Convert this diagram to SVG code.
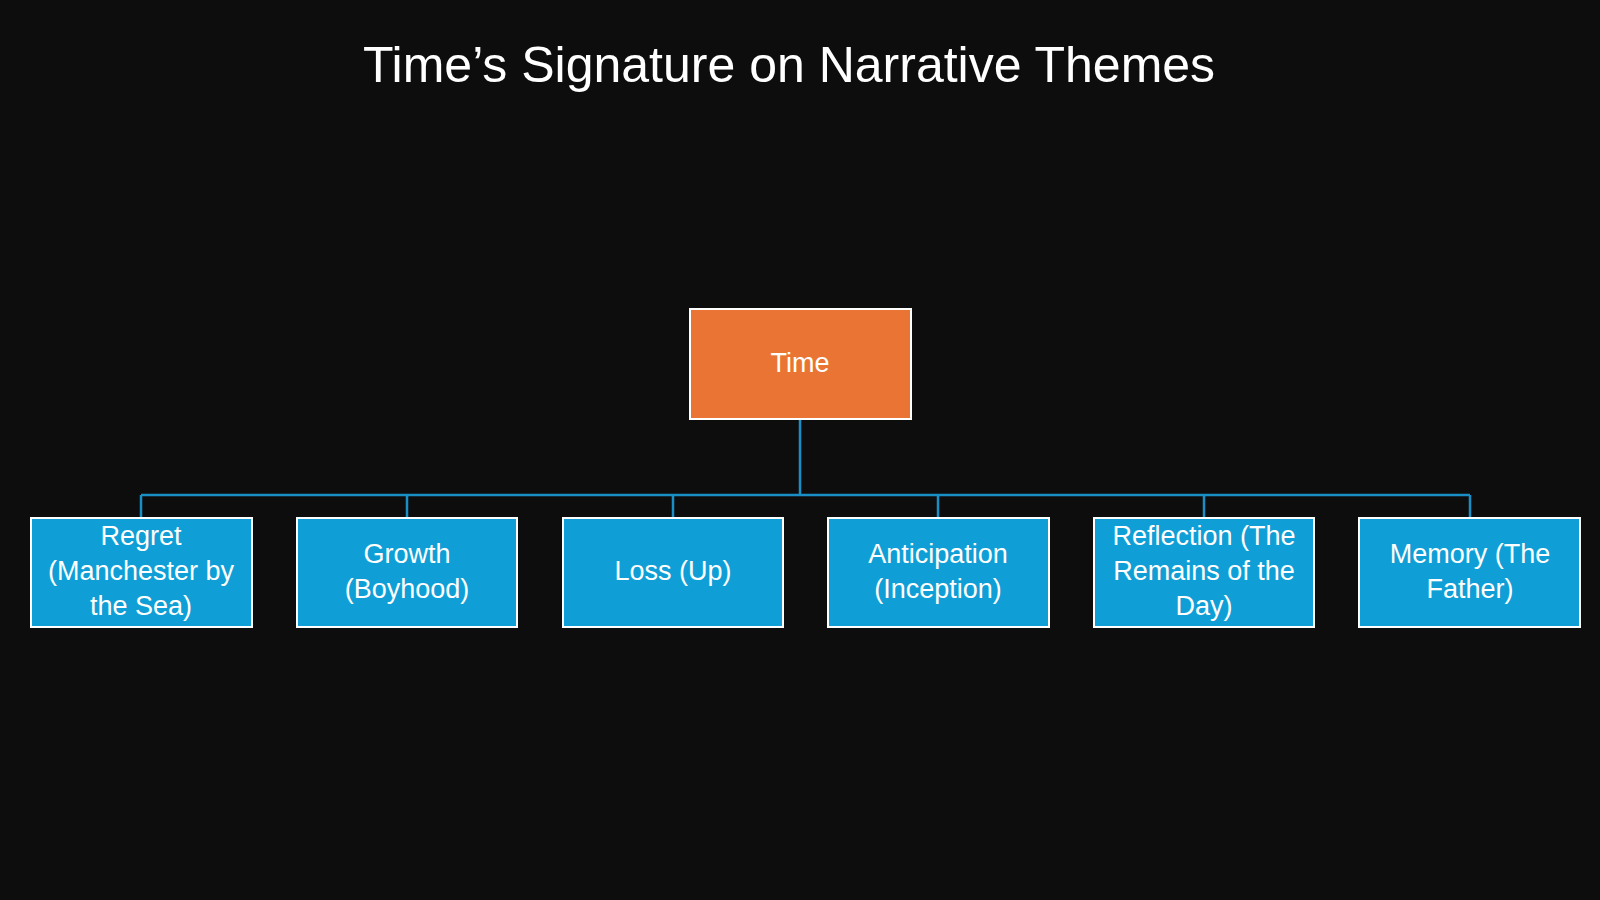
<svg xmlns="http://www.w3.org/2000/svg" width="1600" height="900" viewBox="0 0 1600 900">
<style>
.t{font-family:"Liberation Sans",Arial,sans-serif;fill:#fff;text-anchor:middle}
.n{font-size:27px}
.c{fill:#0f9fd6;stroke:#fff;stroke-width:2}
.l{stroke:#1a8fc6;stroke-width:2.5;fill:none}
</style>
<rect width="1600" height="900" fill="#0d0d0d"/>
<text class="t" x="789" y="82" font-size="50">Time’s Signature on Narrative Themes</text>
<g id="connectors">
<path class="l" d="M800 420V495M141 495H1470M141 495V518M407 495V518M673 495V518M938 495V518M1204 495V518M1470 495V518"/>
</g>
<g id="time"><rect x="690" y="309" width="221" height="110" fill="#ea7434" stroke="#fff" stroke-width="2"/><text class="t n" x="800" y="372">Time</text></g>
<g id="regret"><rect class="c" x="31" y="518" width="221" height="109"/><text class="t n" x="141" y="545">Regret<tspan x="141" dy="35">(Manchester by</tspan><tspan x="141" dy="35">the Sea)</tspan></text></g>
<g id="growth"><rect class="c" x="297" y="518" width="220" height="109"/><text class="t n" x="407" y="563">Growth<tspan x="407" dy="35">(Boyhood)</tspan></text></g>
<g id="loss"><rect class="c" x="563" y="518" width="220" height="109"/><text class="t n" x="673" y="580">Loss (Up)</text></g>
<g id="anticipation"><rect class="c" x="828" y="518" width="221" height="109"/><text class="t n" x="938" y="563">Anticipation<tspan x="938" dy="35">(Inception)</tspan></text></g>
<g id="reflection"><rect class="c" x="1094" y="518" width="220" height="109"/><text class="t n" x="1204" y="545">Reflection (The<tspan x="1204" dy="35">Remains of the</tspan><tspan x="1204" dy="35">Day)</tspan></text></g>
<g id="memory"><rect class="c" x="1359" y="518" width="221" height="109"/><text class="t n" x="1470" y="563">Memory (The<tspan x="1470" dy="35">Father)</tspan></text></g>
</svg>
